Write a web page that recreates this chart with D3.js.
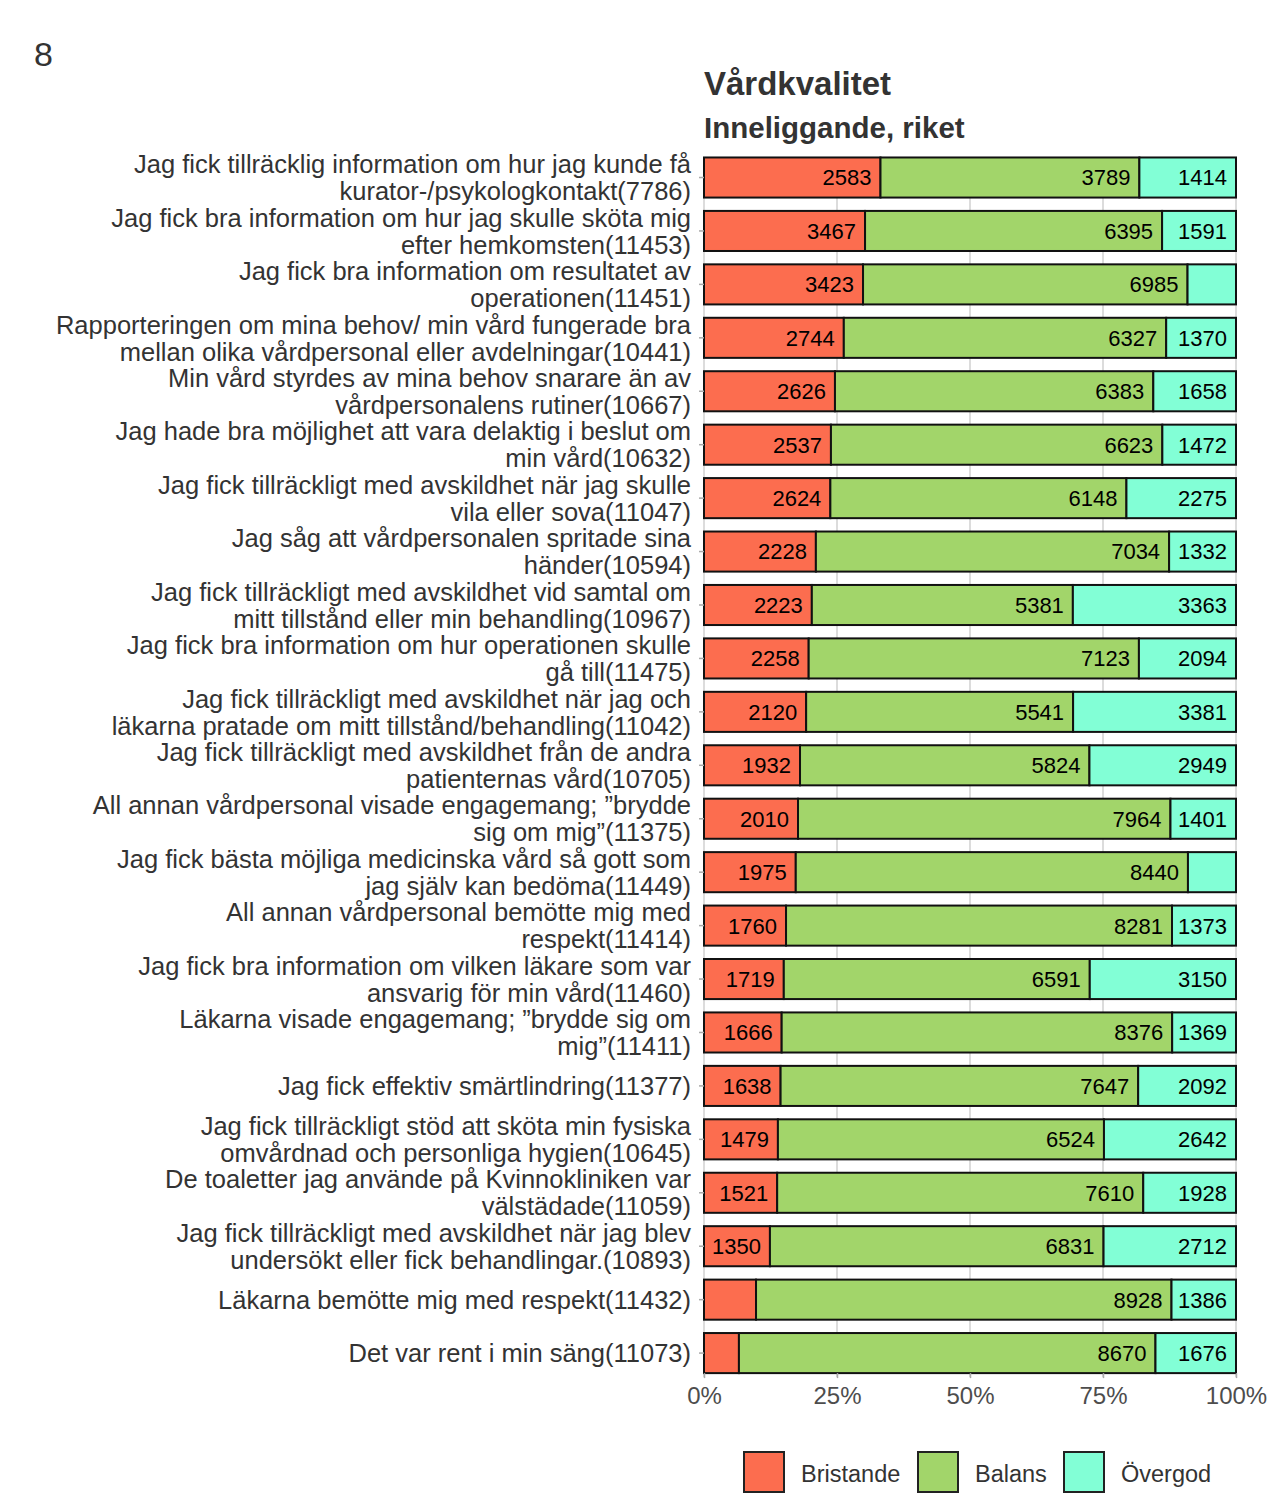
<!DOCTYPE html>
<html>
<head>
<meta charset="utf-8">
<script src="https://cdn.jsdelivr.net/npm/d3@7"></script>
<style>
  body { margin: 0; background: #fff; }
  text { font-family: "Liberation Sans", Arial, sans-serif; }
</style>
</head>
<body>
<script>
// Size of the whole picture
var width = 1272;
var height = 1500;

// question texts, one array of lines per bar (top to bottom)
var questions = [
  ["Jag fick tillräcklig information om hur jag kunde få", "kurator-/psykologkontakt(7786)"],
  ["Jag fick bra information om hur jag skulle sköta mig", "efter hemkomsten(11453)"],
  ["Jag fick bra information om resultatet av", "operationen(11451)"],
  ["Rapporteringen om mina behov/ min vård fungerade bra", "mellan olika vårdpersonal eller avdelningar(10441)"],
  ["Min vård styrdes av mina behov snarare än av", "vårdpersonalens rutiner(10667)"],
  ["Jag hade bra möjlighet att vara delaktig i beslut om", "min vård(10632)"],
  ["Jag fick tillräckligt med avskildhet när jag skulle", "vila eller sova(11047)"],
  ["Jag såg att vårdpersonalen spritade sina", "händer(10594)"],
  ["Jag fick tillräckligt med avskildhet vid samtal om", "mitt tillstånd eller min behandling(10967)"],
  ["Jag fick bra information om hur operationen skulle", "gå till(11475)"],
  ["Jag fick tillräckligt med avskildhet när jag och", "läkarna pratade om mitt tillstånd/behandling(11042)"],
  ["Jag fick tillräckligt med avskildhet från de andra", "patienternas vård(10705)"],
  ["All annan vårdpersonal visade engagemang; ”brydde", "sig om mig”(11375)"],
  ["Jag fick bästa möjliga medicinska vård så gott som", "jag själv kan bedöma(11449)"],
  ["All annan vårdpersonal bemötte mig med", "respekt(11414)"],
  ["Jag fick bra information om vilken läkare som var", "ansvarig för min vård(11460)"],
  ["Läkarna visade engagemang; ”brydde sig om", "mig”(11411)"],
  ["Jag fick effektiv smärtlindring(11377)"],
  ["Jag fick tillräckligt stöd att sköta min fysiska", "omvårdnad och personliga hygien(10645)"],
  ["De toaletter jag använde på Kvinnokliniken var", "välstädade(11059)"],
  ["Jag fick tillräckligt med avskildhet när jag blev", "undersökt eller fick behandlingar.(10893)"],
  ["Läkarna bemötte mig med respekt(11432)"],
  ["Det var rent i min säng(11073)"]
];

// counts per answer group
var bristande = [2583, 3467, 3423, 2744, 2626, 2537, 2624, 2228, 2223, 2258, 2120, 1932, 2010, 1975, 1760, 1719, 1666, 1638, 1479, 1521, 1350, 1118, 727];
var balans    = [3789, 6395, 6985, 6327, 6383, 6623, 6148, 7034, 5381, 7123, 5541, 5824, 7964, 8440, 8281, 6591, 8376, 7647, 6524, 7610, 6831, 8928, 8670];
var overgod   = [1414, 1591, 1043, 1370, 1658, 1472, 2275, 1332, 3363, 2094, 3381, 2949, 1401, 1034, 1373, 3150, 1369, 2092, 2642, 1928, 2712, 1386, 1676];

var groups = ["Bristande", "Balans", "Övergod"];
var colors = ["#FC6D4F", "#A2D56A", "#82FFD6"];
var xTicks = [0, 0.25, 0.5, 0.75, 1];

var rows = questions.map(function(q, i) {
  return { id: i, lines: q, vals: [bristande[i], balans[i], overgod[i]] };
});

var svg = d3.select("body")
    .append("svg")
    .attr("width", width)
    .attr("height", height);

var x = d3.scaleLinear().domain([0, 1]).range([704, 1236]);
var y = d3.scaleBand()
    .domain(rows.map(function(d) { return d.id; }))
    .range([150.8, 1379.8])
    .paddingInner(0.25)
    .paddingOuter(0.125);

var panelTop = y(0), panelBottom = y(rows.length - 1) + y.bandwidth();

// page number and titles
svg.append("text").attr("x", 34).attr("y", 66)
    .style("font-size", "34px").style("fill", "#333").text("8");
svg.append("text").attr("x", 704).attr("y", 95)
    .style("font-size", "33px").style("font-weight", "bold").style("fill", "#333")
    .text("Vårdkvalitet");
svg.append("text").attr("x", 704).attr("y", 138)
    .style("font-size", "29.5px").style("font-weight", "bold").style("fill", "#333")
    .text("Inneliggande, riket");

// vertical grid lines
svg.append("g").selectAll("line")
    .data(xTicks)
    .enter().append("line")
    .attr("x1", function(d) { return x(d); })
    .attr("x2", function(d) { return x(d); })
    .attr("y1", panelTop)
    .attr("y2", panelBottom + 4)
    .attr("stroke", "#dcdcdc")
    .attr("stroke-width", 2);

// stacked segments
var seg = [];
rows.forEach(function(r) {
  var tot = d3.sum(r.vals), cum = 0;
  r.vals.forEach(function(v, k) {
    seg.push({ id: r.id, k: k, v: v, x0: cum / tot, x1: (cum + v) / tot });
    cum += v;
  });
});

var g = svg.append("g");
g.selectAll("rect")
    .data(seg)
    .enter().append("rect")
    .attr("x", function(d) { return x(d.x0); })
    .attr("width", function(d) { return x(d.x1) - x(d.x0); })
    .attr("y", function(d) { return y(d.id); })
    .attr("height", y.bandwidth())
    .attr("fill", function(d) { return colors[d.k]; })
    .attr("stroke", "#111")
    .attr("stroke-width", 2);

// value labels (small shares left unlabelled)
g.selectAll(".val")
    .data(seg.filter(function(d) { return d.x1 - d.x0 >= 0.1; }))
    .enter().append("text")
    .attr("class", "val")
    .attr("x", function(d) { return x(d.x1) - 9; })
    .attr("y", function(d) { return y(d.id) + y.bandwidth() / 2; })
    .attr("dy", "0.36em")
    .attr("text-anchor", "end")
    .style("font-size", "22px")
    .style("fill", "#000")
    .text(function(d) { return d.v; });

// y axis with two-line labels
var yAxis = svg.append("g")
    .attr("transform", "translate(" + x(0) + ",0)")
    .call(d3.axisLeft(y).tickSize(5).tickPadding(12).tickFormat(""));
yAxis.select(".domain").remove();
yAxis.selectAll(".tick line").attr("stroke", "#aaa").attr("stroke-width", 1.5);
yAxis.selectAll(".tick text").remove();
yAxis.selectAll(".tick").append("text")
    .attr("x", -13)
    .attr("text-anchor", "end")
    .style("font-size", "25.5px")
    .style("fill", "#333")
    .each(function(id) {
      var lines = rows[id].lines;
      var t = d3.select(this);
      lines.forEach(function(s, j) {
        t.append("tspan")
          .attr("x", -13)
          .attr("y", (j - (lines.length - 1) / 2) * 27)
          .attr("dy", "0.36em")
          .text(s);
      });
    });

// x axis
var xAxis = svg.append("g")
    .attr("transform", "translate(0," + panelBottom + ")")
    .call(d3.axisBottom(x).tickValues(xTicks).tickSize(5).tickPadding(9)
      .tickFormat(function(d) { return Math.round(d * 100) + "%"; }));
xAxis.select(".domain").remove();
xAxis.selectAll(".tick line").attr("stroke", "#aaa").attr("stroke-width", 1.5);
xAxis.selectAll(".tick text")
    .style("font-size", "24px")
    .style("fill", "#4d4d4d")
    .style("font-family", "Liberation Sans, Arial, sans-serif");

// legend
var legX = [744, 918, 1064];
var leg = svg.append("g").selectAll("g")
    .data(groups)
    .enter().append("g")
    .attr("transform", function(d, i) { return "translate(" + legX[i] + ",1452)"; });
leg.append("rect")
    .attr("width", 40).attr("height", 40)
    .attr("fill", function(d, i) { return colors[i]; })
    .attr("stroke", "#222").attr("stroke-width", 2);
leg.append("text")
    .attr("x", 57).attr("y", 30)
    .style("font-size", "23.5px").style("fill", "#333")
    .text(function(d) { return d; });
</script>
</body>
</html>
